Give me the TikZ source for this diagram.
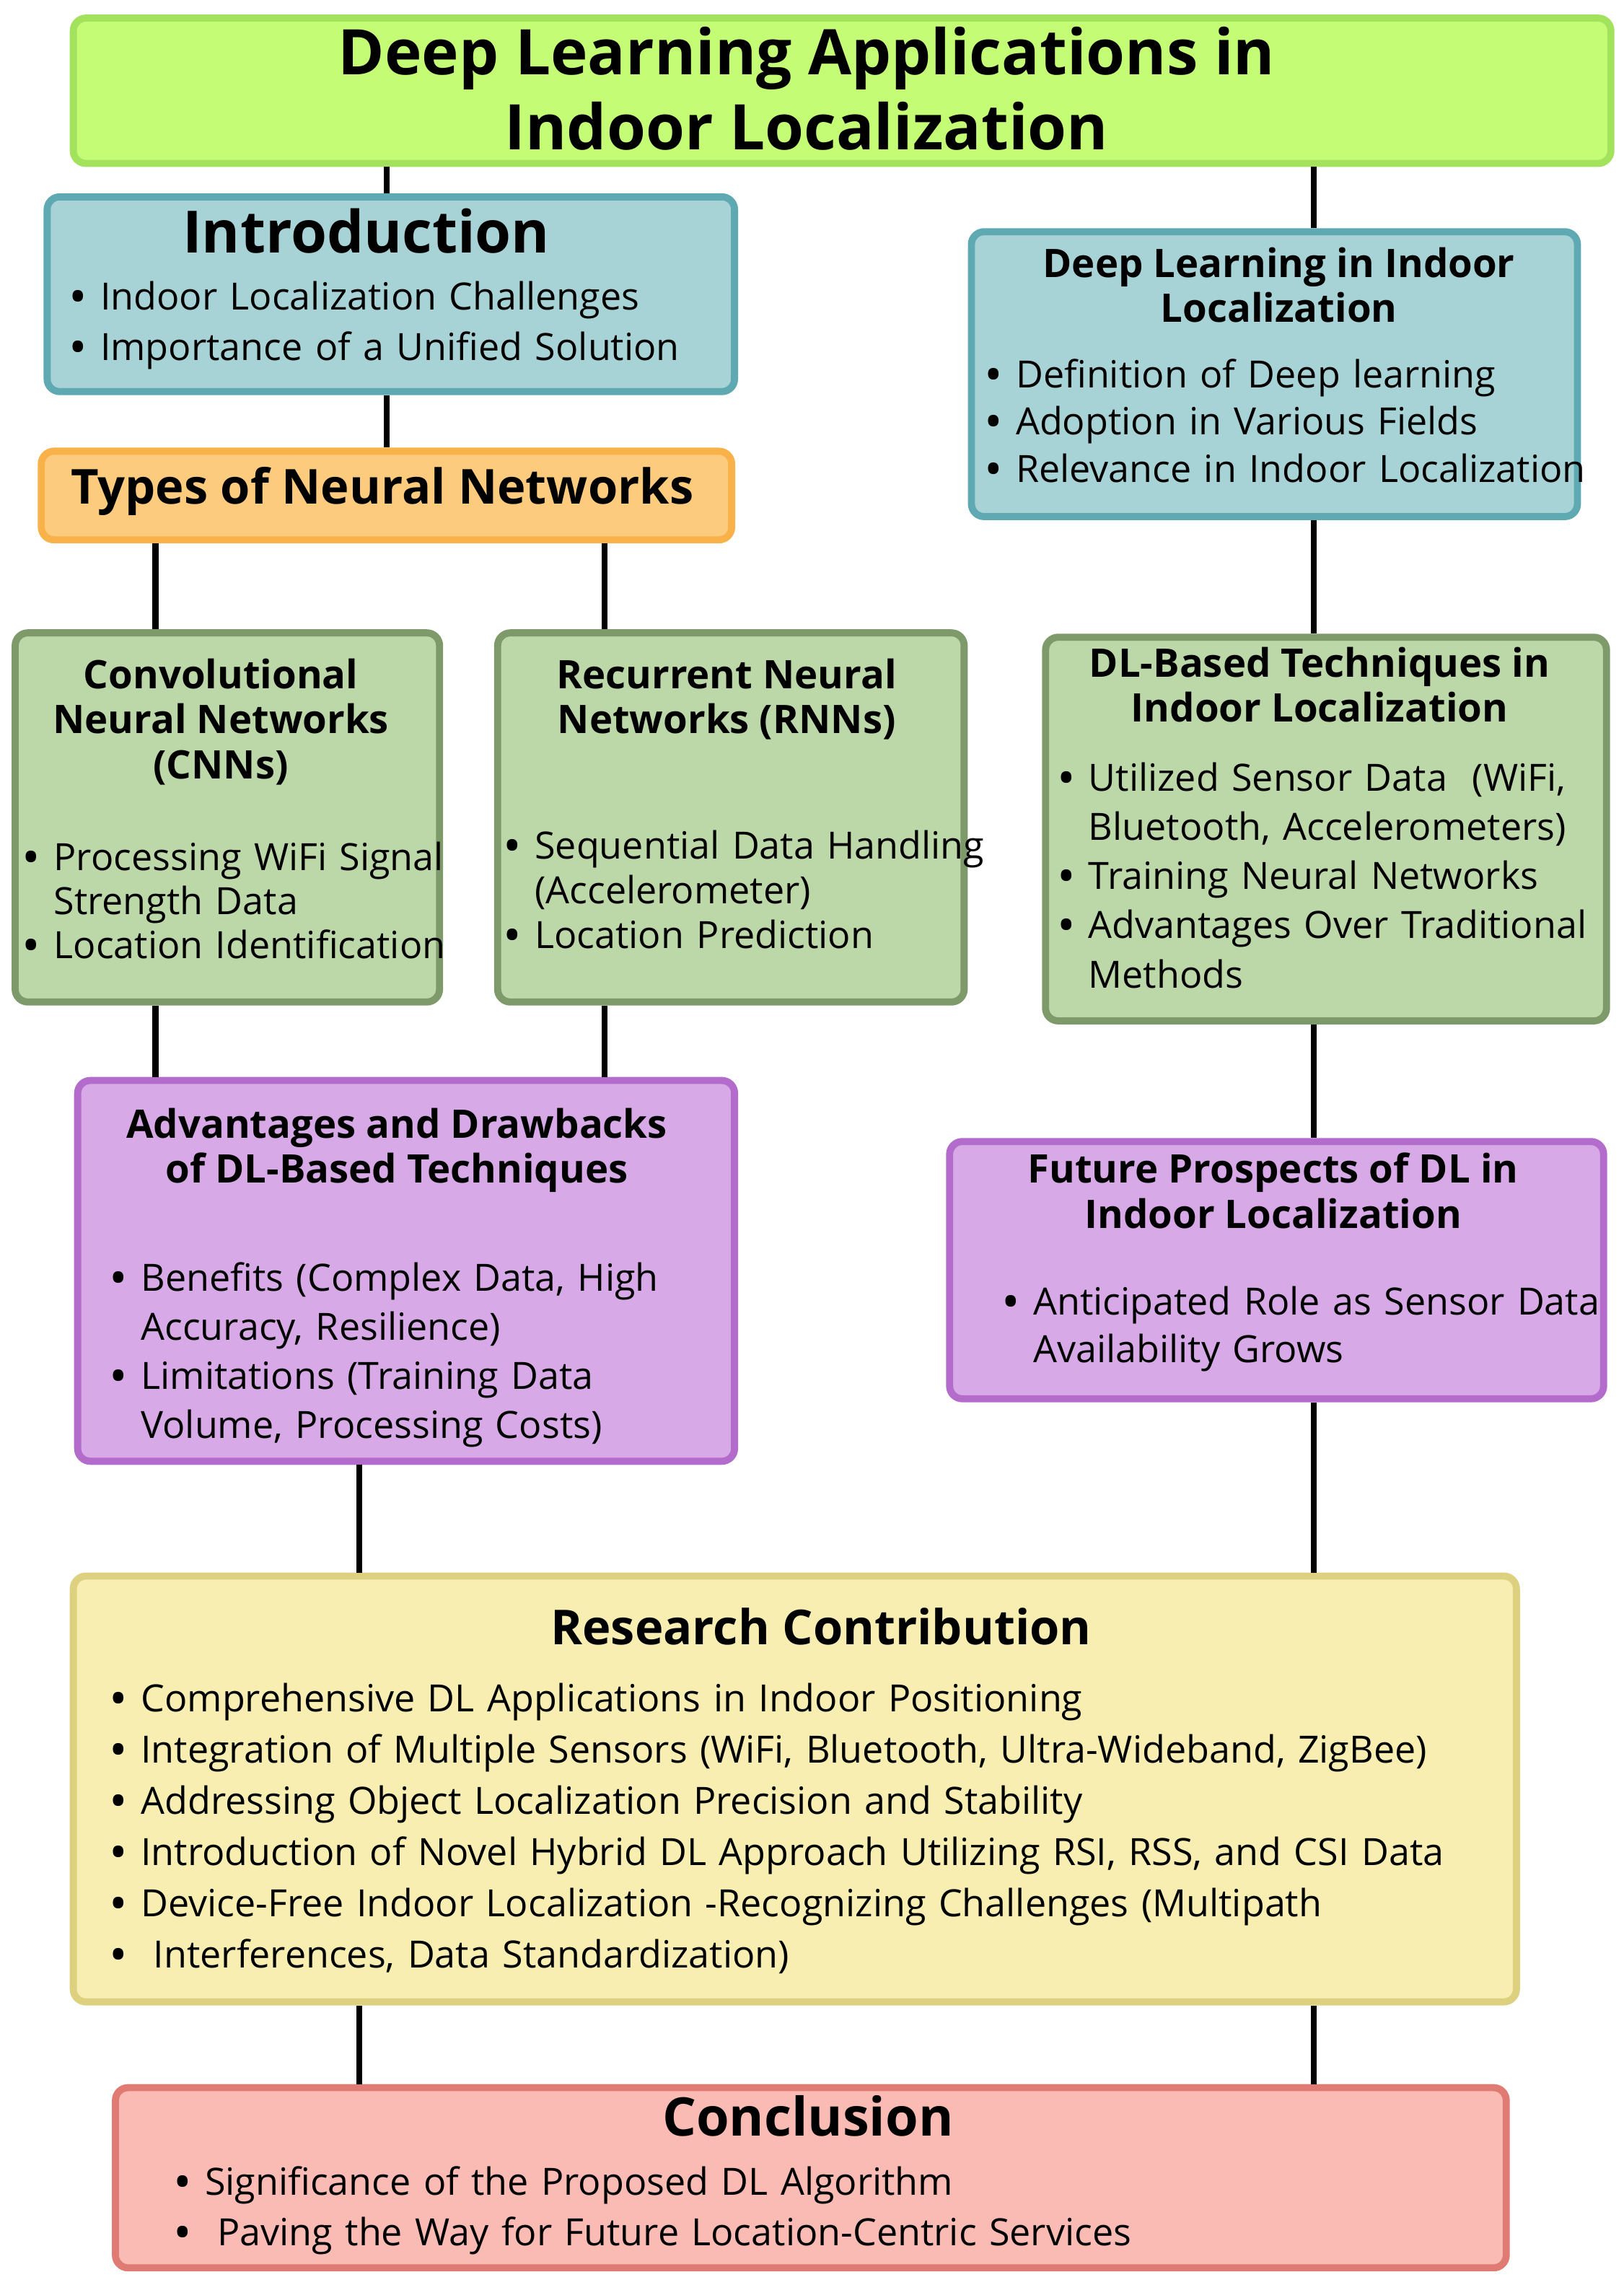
\documentclass[tikz,border=0pt]{standalone}
\usepackage{fontspec}
\setmainfont{Open Sans}
\usepackage{enumitem}
\usetikzlibrary{positioning}
\definecolor{limefill}{HTML}{C5FC76}\definecolor{limeline}{HTML}{A3E25C}
\definecolor{tealfill}{HTML}{A8D3D6}\definecolor{tealline}{HTML}{5FA9B3}
\definecolor{orfill}{HTML}{FDCB7E}\definecolor{orline}{HTML}{F9B24A}
\definecolor{grfill}{HTML}{BCD7A8}\definecolor{grline}{HTML}{7E9A6B}
\definecolor{pufill}{HTML}{D7A9E6}\definecolor{puline}{HTML}{B36CCB}
\definecolor{yefill}{HTML}{F8EEB2}\definecolor{yeline}{HTML}{DDD07E}
\definecolor{pkfill}{HTML}{F9BBB3}\definecolor{pkline}{HTML}{DF7B72}
\setlist[itemize]{label=\textbf{\textbullet},leftmargin=13pt,labelsep=6pt,itemsep=0pt,topsep=0pt,parsep=0pt,partopsep=0pt}
\tikzset{
  box/.style={draw=#1line,fill=#1fill,line width=2.8pt,rounded corners=5pt,anchor=north west,inner sep=0pt},
  head/.style={font=\bfseries\fontsize{15.5}{17.7}\selectfont,align=center,anchor=north,inner sep=0pt},
  bul/.style={font=\fontsize{14.8}{#1}\selectfont,text width=560pt,anchor=north west,inner sep=0pt},
  link/.style={line width=2.3pt,black}
}
\begin{document}
\begin{tikzpicture}[x=0.2014mm,y=-0.2014mm]
\useasboundingbox (0,0) rectangle (1117,1575.7);
\coordinate (ic) at (266,0);
\coordinate (rc) at (904,0);
\coordinate (lc) at (107,0);
\coordinate (mc) at (416,0);
\coordinate (ac) at (247,0);
% boxes
\node[box=lime,minimum width={1058*0.2014mm},minimum height={100*0.2014mm}] (title) at (48,10) {};
\node[box=teal,minimum width={473*0.2014mm},minimum height={134*0.2014mm}] (intro) at (30,133) {};
\node[box=teal,minimum width={417*0.2014mm},minimum height={196*0.2014mm}] (dlin) at (666,157) {};
\node[box=or,minimum width={475*0.2014mm},minimum height={61*0.2014mm}] (types) at (26,308) {};
\node[box=gr,minimum width={292*0.2014mm},minimum height={254*0.2014mm}] (cnn) at (8,433) {};
\node[box=gr,minimum width={321*0.2014mm},minimum height={254*0.2014mm}] (rnn) at (340,433) {};
\node[box=gr,minimum width={386*0.2014mm},minimum height={264*0.2014mm}] (dlb) at (717,436) {};
\node[box=pu,minimum width={452*0.2014mm},minimum height={262*0.2014mm}] (adv) at (51,741) {};
\node[box=pu,minimum width={450*0.2014mm},minimum height={177*0.2014mm}] (fut) at (651,783) {};
\node[box=ye,minimum width={993*0.2014mm},minimum height={293*0.2014mm}] (res) at (48,1082) {};
\node[box=pk,minimum width={957*0.2014mm},minimum height={124*0.2014mm}] (conc) at (77,1434) {};
% connectors
\draw[link] (title.south -| ic) -- (intro.north -| ic);
\draw[link] (intro.south -| ic) -- (types.north -| ic);
\draw[link] (types.south -| lc) -- (cnn.north -| lc);
\draw[link] (types.south -| mc) -- (rnn.north -| mc);
\draw[link] (cnn.south -| lc) -- (adv.north -| lc);
\draw[link] (rnn.south -| mc) -- (adv.north -| mc);
\draw[link] (adv.south -| ac) -- (res.north -| ac);
\draw[link] (res.south -| ac) -- (conc.north -| ac);
\draw[link] (title.south -| rc) -- (dlin.north -| rc);
\draw[link] (dlin.south -| rc) -- (dlb.north -| rc);
\draw[link] (dlb.south -| rc) -- (fut.north -| rc);
\draw[link] (fut.south -| rc) -- (res.north -| rc);
\draw[link] (res.south -| rc) -- (conc.north -| rc);
% headings
\node[head,anchor=center,font=\bfseries\fontsize{24.8}{29.7}\selectfont] (titlet) at (555,61) {Deep Learning Applications in\\Indoor Localization};
\node[head,anchor=center,font=\bfseries\fontsize{23}{26}\selectfont] (introt) at (252,159) {Introduction};
\node[head] (dlint) at (880,170) {Deep Learning in Indoor\\Localization};
\node[head,anchor=center,font=\bfseries\fontsize{19}{22}\selectfont] (typest) at (263,338) {Types of Neural Networks};
\node[head] (cnnt) at (152,453) {Convolutional\\Neural Networks\\(CNNs)};
\node[head] (rnnt) at (500,453) {Recurrent Neural\\Networks (RNNs)};
\node[head] (dlbt) at (908,445) {DL-Based Techniques in\\Indoor Localization};
\node[head] (advt) at (273,762) {Advantages and Drawbacks\\of DL-Based Techniques};
\node[head] (futt) at (876,793) {Future Prospects of DL in\\Indoor Localization};
\node[head,anchor=center,font=\bfseries\fontsize{19}{22}\selectfont] (rest) at (565,1119) {Research Contribution};
\node[head,anchor=center,font=\bfseries\fontsize{21}{24}\selectfont] (conct) at (556,1456) {Conclusion};
% bullets
\node[bul=20] (introb) at (46,178) {\begin{itemize}
\item Indoor Localization Challenges
\item Importance of a Unified Solution
\end{itemize}};
\node[bul=18.6] (dlinb) at (676,234) {\begin{itemize}
\item Definition of Deep learning
\item Adoption in Various Fields
\item Relevance in Indoor Localization
\end{itemize}};
\node[bul=17.4] (cnnb) at (14,568) {\begin{itemize}
\item Processing WiFi Signal\\Strength Data
\item Location Identification
\end{itemize}};
\node[bul=17.6] (rnnb) at (345,560) {\begin{itemize}
\item Sequential Data Handling\\(Accelerometer)
\item Location Prediction
\end{itemize}};
\node[bul=19.4] (dlbb) at (726,510) {\begin{itemize}
\item Utilized Sensor Data\ \ (WiFi,\\Bluetooth, Accelerometers)
\item Training Neural Networks
\item Advantages Over Traditional\\Methods
\end{itemize}};
\node[bul=19.4] (advb) at (74,854) {\begin{itemize}
\item Benefits (Complex Data, High\\Accuracy, Resilience)
\item Limitations (Training Data\\Volume, Processing Costs)
\end{itemize}};
\node[bul=19] (futb) at (688,871) {\begin{itemize}
\item Anticipated Role as Sensor Data\\Availability Grows
\end{itemize}};
\node[bul=20.2] (resb) at (74,1142) {\begin{itemize}
\item Comprehensive DL Applications in Indoor Positioning
\item Integration of Multiple Sensors (WiFi, Bluetooth, Ultra-Wideband, ZigBee)
\item Addressing Object Localization Precision and Stability
\item Introduction of Novel Hybrid DL Approach Utilizing RSI, RSS, and CSI Data
\item Device-Free Indoor Localization -Recognizing Challenges (Multipath
\item \ Interferences, Data Standardization)
\end{itemize}};
\node[bul=20] (concb) at (118,1475) {\begin{itemize}
\item Significance of the Proposed DL Algorithm
\item \ Paving the Way for Future Location-Centric Services
\end{itemize}};
\end{tikzpicture}
\end{document}
